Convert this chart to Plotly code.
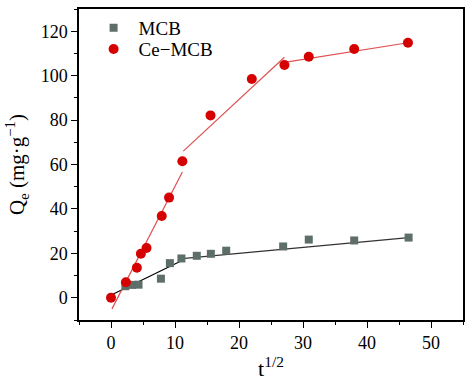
import plotly.graph_objects as go

# MCB data
mcb_x = [2.24, 3.3, 4.3, 7.8, 9.2, 11.0, 13.4, 15.6, 18.0, 26.9, 30.9, 38.0, 46.5]
mcb_y = [5.2, 5.8, 5.9, 8.6, 15.6, 17.7, 18.9, 19.8, 21.2, 23.1, 26.2, 25.8, 27.1]

# Ce-MCB data
ce_x = [0.0, 2.33, 4.04, 4.67, 5.55, 7.93, 9.07, 11.15, 15.55, 22.0, 27.1, 30.9, 38.0, 46.4]
ce_y = [0.0, 7.0, 13.5, 19.8, 22.4, 36.8, 45.1, 61.5, 82.1, 98.5, 104.8, 108.5, 112.0, 114.8]

# fitted segments (start/end)
mcb_fit1_x = [0.2, 11.1]
mcb_fit1_y = [1.5, 16.8]
mcb_fit2_x = [11.1, 46.5]
mcb_fit2_y = [17.6, 27.1]
ce_fit1_x = [0.15, 11.15]
ce_fit1_y = [-5.0, 56.6]
ce_fit2_x = [11.3, 27.1]
ce_fit2_y = [66.0, 108.3]
ce_fit3_x = [27.1, 46.4]
ce_fit3_y = [106.0, 114.8]

RED = "#d50000"
GRAY = "#5e6e69"
FONT = "Liberation Serif"

fig = go.Figure()
for fx, fy, col in [
    (mcb_fit1_x, mcb_fit1_y, "black"),
    (mcb_fit2_x, mcb_fit2_y, "#333333"),
    (ce_fit1_x, ce_fit1_y, "#e05050"),
    (ce_fit2_x, ce_fit2_y, "#e05050"),
    (ce_fit3_x, ce_fit3_y, "#e05050"),
]:
    fig.add_trace(go.Scatter(x=fx, y=fy, mode="lines", line=dict(color=col, width=1.2),
                             showlegend=False, hoverinfo="skip"))

fig.add_trace(go.Scatter(x=mcb_x, y=mcb_y, mode="markers", name="MCB", legend="legend",
                         marker=dict(symbol="square", size=8, color=GRAY)))
fig.add_trace(go.Scatter(x=ce_x, y=ce_y, mode="markers", name="Ce\u2212MCB", legend="legend2",
                         marker=dict(symbol="circle", size=10, color=RED)))

axis_common = dict(
    showline=True, linecolor="black", linewidth=1.5, mirror=True,
    ticks="outside", ticklen=6, tickwidth=1.2, tickcolor="black",
    showgrid=False, zeroline=False, automargin=False,
    tickfont=dict(family=FONT, size=18, color="black"),
)

fig.update_xaxes(range=[-5, 55], dtick=10, tick0=0,
                 minor=dict(dtick=5, ticks="outside", ticklen=3, tickcolor="black"),
                 title=dict(text="t<sup>1/2</sup>", font=dict(family=FONT, size=22, color="black"),
                            standoff=8),
                 **axis_common)
fig.update_yaxes(range=[-10, 130], dtick=20, tick0=0,
                 minor=dict(dtick=10, ticks="outside", ticklen=3, tickcolor="black"),
                 title=dict(text="Q<sub>e</sub> (mg\u00b7g<sup>\u22121</sup>)",
                            font=dict(family=FONT, size=21, color="black"), standoff=10),
                 **axis_common)

leg_common = dict(xanchor="left", yanchor="top", itemwidth=40,
                  font=dict(family=FONT, size=19, color="black"),
                  bgcolor="rgba(0,0,0,0)")
fig.update_layout(
    width=474, height=386,
    margin=dict(l=79, r=11, t=9, b=66),
    plot_bgcolor="white", paper_bgcolor="white",
    font=dict(family=FONT, color="black"),
    legend=dict(x=0.025, y=1.0, **leg_common),
    legend2=dict(x=0.025, y=0.932, **leg_common),
)

fig.write_html("out.html", config={"displayModeBar": False},
               post_script="document.body.style.margin='0';")
